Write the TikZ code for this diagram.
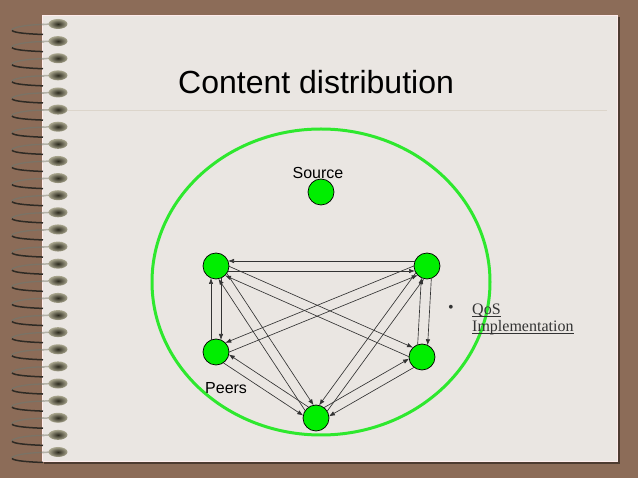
\documentclass[tikz,border=0pt]{standalone}
\usepackage{fontspec}
\setmainfont{Liberation Sans}
\newfontfamily\timesf{Liberation Serif}
\usetikzlibrary{calc,arrows.meta}
\definecolor{bgbrown}{HTML}{8C6C58}
\definecolor{paper}{HTML}{EAE6E2}
\definecolor{rule}{HTML}{DCD5CB}
\definecolor{ringgreen}{HTML}{2EE82E}
\definecolor{peergreen}{HTML}{00EE00}
\definecolor{arrowgrey}{HTML}{333333}
\definecolor{wiredark}{HTML}{2E2A24}
\definecolor{wiremid}{HTML}{7A7366}
\definecolor{wirelight}{HTML}{B4B2A8}
\definecolor{holedark}{HTML}{2C2A1E}
\definecolor{holelight}{HTML}{A9A68E}
\tikzset{
  peer/.style={circle,draw=black,line width=0.7pt,fill=peergreen,minimum size=26pt,inner sep=0pt},
  arr/.style={draw=arrowgrey,line width=0.65pt,-{Latex[length=6pt,width=4.5pt]},shorten <=12pt,shorten >=12pt},
  lbl/.style={font=\fontsize{16}{18}\selectfont,inner sep=0pt},
  bultxt/.style={anchor=base west,inner sep=0pt,font=\timesf\fontsize{16}{17}\selectfont,text=black!80},
  uline/.style={draw=black!80,line width=0.7pt}
}
\newcommand\arrR[2]{\draw[arr] ($(#1)!5pt!-90:(#2)$) -- ($(#2)!5pt!90:(#1)$);}
\newcommand\arrL[2]{\draw[arr] ($(#1)!5pt!90:(#2)$) -- ($(#2)!5pt!-90:(#1)$);}
\begin{document}
\begin{tikzpicture}[x=1pt,y=-1pt]
\useasboundingbox (0,0) rectangle (638,478);
% background
\fill[bgbrown] (0,0) rectangle (638,478);
\fill[black!45!bgbrown] (44,17) rectangle (620,464);
\fill[paper] (42,15) rectangle (617,461);
\draw[white!70!pink,line width=0.8pt] (42,15) rectangle (617,461);
% rule under title
\draw[rule,line width=1pt] (42,110.5) -- (607,110.5);
% spiral binding
\foreach \i in {0,...,25}{
  \pgfmathsetmacro{\yy}{24+17.12*\i}
  \draw[wiremid,line width=1.3pt] (44,\yy+0.5) .. controls (25,\yy+0.5) and (10,\yy+4) .. (12,\yy+6.5);
  \draw[wiredark,line width=1.5pt] (12,\yy+6.5) .. controls (14,\yy+9) and (30,\yy+10) .. (43,\yy+10.5);
  \draw[wirelight,line width=1.5pt] (42,\yy+0.5) -- (52,\yy);
  \shade[inner color=holedark,outer color=holelight] (58,\yy) ellipse [x radius=9.5, y radius=5];
}
% title
\node[anchor=base west,inner sep=0pt,font=\fontsize{32}{38}\selectfont] (title) at (178,94) {Content distribution};
% big green ring
\draw[ringgreen,line width=3pt] (321,282) ellipse [x radius=169, y radius=153];
% nodes
\node[lbl,anchor=base] (srclbl) at (318,179) {Source};
\node[peer] (S) at (321,192) {};
\node[peer] (TL) at (216,266) {};
\node[peer] (TR) at (427,266) {};
\node[peer] (ML) at (216,352) {};
\node[peer] (MR) at (422,357) {};
\node[peer] (B) at (316,418) {};
\node[lbl,anchor=base west] (peerslbl) at (205,394) {Peers};
% arrows
\arrR{TR}{TL} \arrR{TL}{TR}
\arrL{ML}{TL} \arrL{TL}{ML}
\arrL{MR}{TR} \arrL{TR}{MR}
\arrR{ML}{B}  \arrR{B}{ML}
\arrL{TL}{B}  \arrL{B}{TL}
\arrR{TR}{B}  \arrR{B}{TR}
\arrL{MR}{B}  \arrL{B}{MR}
\arrL{TL}{MR} \arrL{MR}{TL}
\arrR{TR}{ML} \arrR{ML}{TR}
% bullet text
\node[inner sep=0pt,font=\timesf\fontsize{16}{17}\selectfont,text=black!80] (bul) at (451,309) {•};
\node[bultxt] (qos) at (472,314.7) {QoS};
\node[bultxt] (impl) at (472,331.7) {Implementation};
\draw[uline] ($(qos.base west)+(0,1.6)$) -- ($(qos.base east)+(0,1.6)$);
\draw[uline] ($(impl.base west)+(0,1.6)$) -- ($(impl.base east)+(0,1.6)$);
\end{tikzpicture}
\end{document}
